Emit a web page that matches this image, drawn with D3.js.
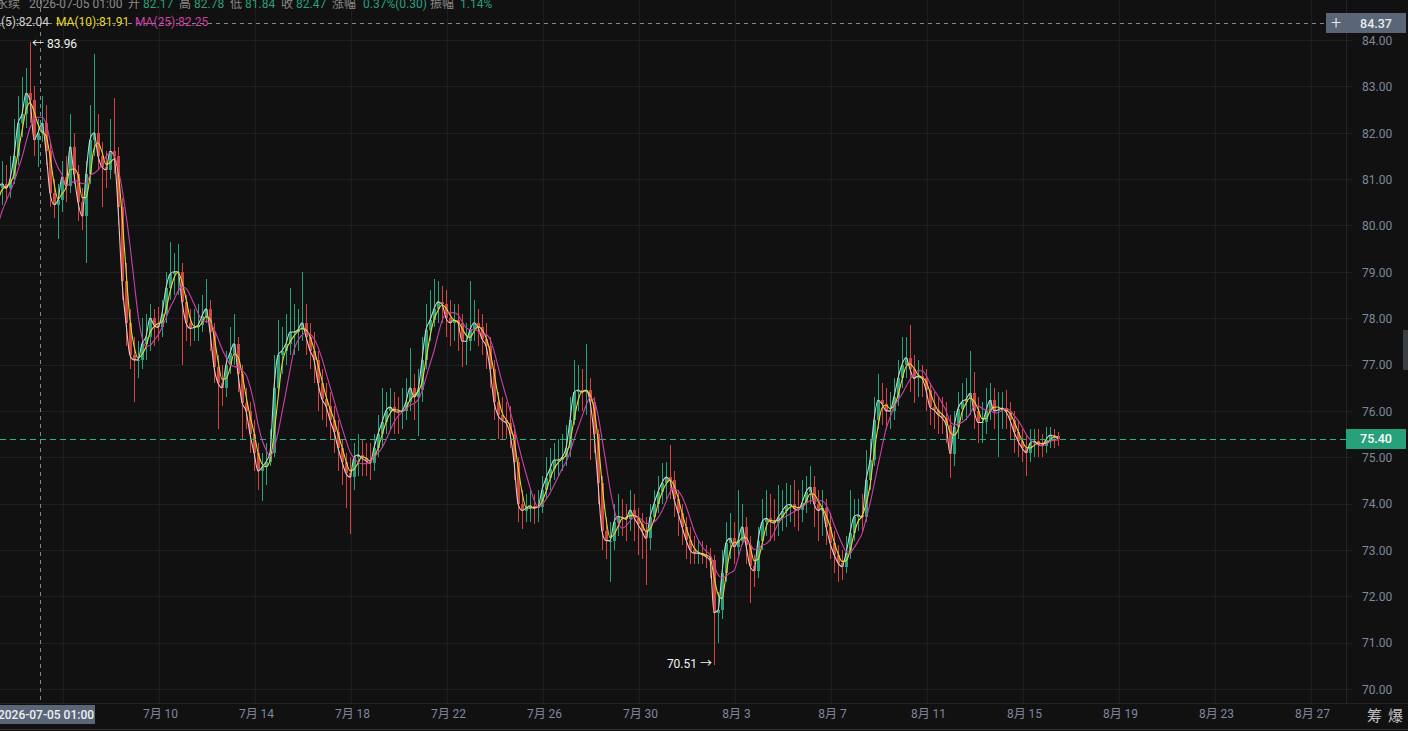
<!DOCTYPE html>
<html>
<head>
<meta charset="utf-8">
<script src="https://cdn.jsdelivr.net/npm/d3@7"></script>
<style>
  html, body { margin: 0; padding: 0; background: #111111; overflow: hidden; }
  svg { display: block; }
  text { font-family: Roboto, "Noto Sans CJK SC", "Noto Sans", sans-serif; }
</style>
</head>
<body>
<svg id="chart" width="1408" height="731"></svg>
<script>
// ---------------- DATA (4-hour bars) ----------------
const firstBarTime = new Date(2026, 6, 2, 8);   // first bar (off-screen, left)
const hoursPerBar = 4;

const opens = [
79.3,79.2,79.5,79.8,80.2,80.6,
80.8,80.9,80.8,81.0,81.5,82.2,82.4,82.85,82.7,81.85,
82.0,82.2,81.6,80.7,80.45,80.55,81.05,80.85,81.7,81.1,
80.5,80.2,81.1,81.85,82.0,81.5,81.26,81.2,81.6,81.5,
80.4,78.8,77.9,77.2,77.1,77.1,77.45,77.6,78.0,77.85,
77.8,78.1,78.65,78.95,79.0,79.0,78.35,77.9,77.78,77.8,
77.85,78.05,78.2,77.7,76.95,76.6,76.5,77.0,77.25,77.45,
76.8,76.18,76.0,75.5,75.1,74.7,74.78,74.9,75.1,76.5,
77.2,77.3,77.45,77.7,77.7,77.75,77.9,77.6,77.3,77.1,
76.6,76.25,76.1,75.8,75.55,75.2,74.9,74.65,74.57,75.0,
75.05,74.98,74.92,74.87,75.2,75.5,75.75,76.0,76.08,76.0,
75.97,76.0,76.2,76.5,76.3,76.45,77.1,77.75,77.95,78.2,
78.35,78.3,78.0,77.9,77.96,77.9,77.5,77.5,77.75,77.9,
77.8,77.55,77.4,76.9,76.2,75.9,75.8,75.74,75.5,74.9,
74.0,73.85,73.9,73.95,73.9,73.93,74.3,74.55,74.75,74.94,
74.94,75.0,75.2,75.8,76.4,76.45,76.4,76.45,76.2,75.5,
74.45,73.4,73.2,73.2,73.6,73.72,73.7,73.66,73.86,73.7,
73.55,73.4,73.25,73.7,74.0,74.25,74.45,74.57,74.5,74.1,
73.8,73.5,73.22,73.0,72.93,72.93,72.9,72.85,72.78,71.65,
71.7,72.5,73.15,73.25,73.07,73.2,73.5,73.1,72.65,72.55,
73.2,73.6,73.68,73.62,73.58,73.7,73.83,73.95,73.98,73.9,
73.86,74.02,74.25,74.35,74.0,73.85,73.9,73.5,73.15,72.9,
72.72,72.64,72.93,73.36,73.72,73.76,73.7,74.5,74.94,75.8,
76.23,76.15,76.0,76.0,76.3,76.7,77.0,77.15,76.9,76.7,
76.75,76.7,76.45,76.08,76.02,75.92,75.85,75.7,75.08,75.65,
76.05,76.2,76.25,76.38,76.0,75.75,75.75,76.0,76.23,76.0,
76.02,76.06,75.98,75.8,75.55,75.35,75.2,75.1,75.3,75.35,
75.28,75.25,75.38,75.48,75.45
];

const closes = [
79.2,79.5,79.8,80.2,80.6,80.8,
80.9,80.8,81.0,81.5,82.2,82.4,82.85,82.7,81.85,82.0,
82.2,81.6,80.7,80.45,80.55,81.05,80.85,81.7,81.1,80.5,
80.2,81.1,81.85,82.0,81.5,81.26,81.2,81.6,81.5,80.4,
78.8,77.9,77.2,77.1,77.1,77.45,77.6,78.0,77.85,77.8,
78.1,78.65,78.95,79.0,79.0,78.35,77.9,77.78,77.8,77.85,
78.05,78.2,77.7,76.95,76.6,76.5,77.0,77.25,77.45,76.8,
76.18,76.0,75.5,75.1,74.7,74.78,74.9,75.1,76.5,77.2,
77.3,77.45,77.7,77.7,77.75,77.9,77.6,77.3,77.1,76.6,
76.25,76.1,75.8,75.55,75.2,74.9,74.65,74.57,75.0,75.05,
74.98,74.92,74.87,75.2,75.5,75.75,76.0,76.08,76.0,75.97,
76.0,76.2,76.5,76.3,76.45,77.1,77.75,77.95,78.2,78.35,
78.3,78.0,77.9,77.96,77.9,77.5,77.5,77.75,77.9,77.8,
77.55,77.4,76.9,76.2,75.9,75.8,75.74,75.5,74.9,74.0,
73.85,73.9,73.95,73.9,73.93,74.3,74.55,74.75,74.94,74.94,
75.0,75.2,75.8,76.4,76.45,76.4,76.45,76.2,75.5,74.45,
73.4,73.2,73.2,73.6,73.72,73.7,73.66,73.86,73.7,73.55,
73.4,73.25,73.7,74.0,74.25,74.45,74.57,74.5,74.1,73.8,
73.5,73.22,73.0,72.93,72.93,72.9,72.85,72.78,71.65,71.7,
72.5,73.15,73.25,73.07,73.2,73.5,73.1,72.65,72.55,73.2,
73.6,73.68,73.62,73.58,73.7,73.83,73.95,73.98,73.9,73.86,
74.02,74.25,74.35,74.0,73.85,73.9,73.5,73.15,72.9,72.72,
72.64,72.93,73.36,73.72,73.76,73.7,74.5,74.94,75.8,76.23,
76.15,76.0,76.0,76.3,76.7,77.0,77.15,76.9,76.7,76.75,
76.7,76.45,76.08,76.02,75.92,75.85,75.7,75.08,75.65,76.05,
76.2,76.25,76.38,76.0,75.75,75.75,76.0,76.23,76.0,76.02,
76.06,75.98,75.8,75.55,75.35,75.2,75.1,75.3,75.35,75.28,
75.25,75.38,75.48,75.45,75.40
];

const highs = [
79.6,79.8,80.1,80.5,80.9,81.1,
81.4,81.3,81.5,82.3,82.8,83.2,83.4,83.96,83.0,82.3,
82.8,82.6,81.8,81.0,80.9,81.4,81.5,82.4,82.0,81.3,
80.8,81.4,82.6,83.7,82.4,81.8,81.6,82.3,82.75,81.7,
80.6,79.2,78.2,77.6,77.5,78.0,78.1,78.3,78.2,78.25,
78.4,79.0,79.65,79.4,79.6,79.2,78.5,78.2,78.2,78.3,
78.5,78.85,78.4,77.9,77.2,77.0,77.3,77.8,78.1,77.6,
77.0,76.5,76.2,75.8,75.3,75.1,75.3,75.6,77.2,77.96,
77.8,78.1,78.65,78.3,78.2,79.0,78.3,77.9,77.7,77.3,
76.9,76.6,76.4,76.1,75.8,75.4,75.1,75.0,75.3,75.5,
75.4,75.3,75.3,75.5,75.9,76.5,76.4,76.5,76.4,76.3,
76.5,76.7,77.35,76.8,76.9,77.6,78.3,78.6,78.85,78.8,
78.7,78.6,78.4,78.3,78.3,78.1,77.9,78.8,78.4,78.2,
78.1,77.9,77.6,77.1,76.4,76.3,76.2,76.1,75.7,75.0,
74.3,74.2,74.3,74.2,74.3,74.6,75.0,75.2,75.3,75.4,
75.5,75.7,76.3,77.1,77.0,76.9,77.45,76.7,76.3,75.6,
74.6,73.7,73.6,74.0,74.2,74.1,74.0,74.3,74.2,73.9,
73.8,73.7,74.0,74.3,74.6,74.87,74.9,75.26,74.7,74.3,
74.0,73.7,73.5,73.3,73.2,73.2,73.1,73.05,72.9,72.1,
73.0,73.6,73.8,73.6,74.3,74.0,73.7,73.3,72.9,73.5,
74.1,74.3,74.2,74.1,74.4,74.3,74.45,74.4,74.5,74.3,
74.5,74.6,74.8,74.6,74.3,74.3,74.1,73.8,73.4,73.1,
73.0,73.3,74.3,74.1,74.1,74.2,75.15,75.4,76.3,76.8,
76.6,76.5,76.4,76.7,77.1,77.6,77.6,77.85,77.2,77.1,
77.0,76.9,76.6,76.4,76.3,76.3,76.2,75.9,76.0,76.4,
76.6,76.7,77.3,76.84,76.3,76.2,76.5,76.6,76.5,76.4,
76.4,76.45,76.2,76.0,75.8,75.6,75.5,75.6,75.6,75.6,
75.5,75.65,75.65,75.6,75.55
];

const lows = [
78.9,79.0,79.3,79.6,80.0,80.4,
80.45,80.5,80.6,80.9,81.3,81.9,82.1,82.2,81.5,81.25,
81.8,81.3,80.4,80.15,79.7,80.3,80.5,80.7,80.9,80.1,
79.9,79.2,80.9,81.5,81.2,80.4,80.8,81.0,81.1,80.0,
78.4,77.4,76.9,76.2,76.7,76.9,77.1,77.3,77.4,77.5,
77.6,77.9,78.4,78.5,78.5,77.0,77.5,77.4,77.5,77.5,
77.7,77.9,77.3,76.6,75.6,76.1,76.3,76.8,77.0,76.4,
75.37,75.6,75.1,74.7,74.3,74.05,74.4,74.8,75.0,76.4,
76.8,77.0,77.2,77.2,77.3,77.5,77.2,76.9,76.6,76.0,
75.8,75.65,75.4,75.1,74.7,74.4,73.9,73.35,74.3,74.6,
74.6,74.6,74.5,74.7,75.0,75.2,75.5,75.6,75.5,75.5,
75.6,75.8,76.0,75.8,75.45,76.2,76.9,77.5,77.8,77.9,
77.9,77.6,77.4,77.5,77.3,76.95,77.0,77.3,77.5,77.4,
77.2,76.9,76.5,75.8,75.4,75.4,75.4,75.2,74.5,73.6,
73.45,73.6,73.6,73.55,73.6,73.8,74.1,74.3,74.5,74.6,
74.7,74.8,75.0,75.7,76.0,76.0,75.9,74.95,75.1,74.0,
73.0,72.8,72.3,73.0,73.3,73.3,73.2,73.4,73.2,72.9,
72.8,72.24,73.0,73.6,73.8,74.0,74.1,74.1,73.7,73.3,
73.1,72.8,72.7,72.7,72.7,72.7,72.6,72.4,70.51,71.0,
71.5,72.3,72.8,72.7,72.9,73.1,72.7,71.85,72.2,72.4,
73.0,73.3,73.2,73.2,73.3,73.4,73.5,73.6,73.5,73.4,
73.6,73.8,74.0,73.5,73.2,73.3,73.1,72.8,72.5,72.3,
72.35,72.5,72.8,73.2,73.4,73.4,73.6,74.3,74.8,75.6,
75.7,75.6,75.6,75.8,76.1,76.5,76.7,76.4,76.17,76.3,
76.3,76.0,75.7,75.6,75.5,75.5,75.3,74.55,74.8,75.4,
75.8,75.8,75.9,75.6,75.3,75.3,75.5,75.8,75.6,75.0,
75.6,75.6,75.4,75.1,75.0,74.9,74.6,74.9,75.0,75.0,
75.0,75.1,75.2,75.2,75.25
];

const maPeriods = [5, 10, 25];                 // hours
const maColors = ["#cfcfcf", "#e9d927", "#cf3fa8"];
const maLegendValues = ["82.04", "81.91", "82.25"];

const priceTicks = [70, 71, 72, 73, 74, 75, 76, 77, 78, 79, 80, 81, 82, 83, 84];
const dateTicks = [
  new Date(2026, 6, 6), new Date(2026, 6, 10), new Date(2026, 6, 14), new Date(2026, 6, 18),
  new Date(2026, 6, 22), new Date(2026, 6, 26), new Date(2026, 6, 30), new Date(2026, 7, 3),
  new Date(2026, 7, 7), new Date(2026, 7, 11), new Date(2026, 7, 15), new Date(2026, 7, 19),
  new Date(2026, 7, 23), new Date(2026, 7, 27)
];
const crosshairTime = new Date(2026, 6, 5, 1);
const crosshairPrice = 84.37;
const lastPrice = 75.40;
const maxMark = { time: new Date(2026, 6, 4, 13), price: 83.96 };
const minMark = { time: new Date(2026, 7, 2, 2), price: 70.51 };

const header = [
  { t: "永续", c: "gray" }, { t: "2026-07-05 01:00", c: "gray" },
  { t: "开", c: "gray" }, { t: "82.17", c: "val" },
  { t: "高", c: "gray" }, { t: "82.78", c: "val" },
  { t: "低", c: "gray" }, { t: "81.84", c: "val" },
  { t: "收", c: "gray" }, { t: "82.47", c: "val" },
  { t: "涨幅", c: "gray" }, { t: "0.37%(0.30)", c: "val" },
  { t: "振幅", c: "gray" }, { t: "1.14%", c: "val" }
];
const headerX = [-4, 29, 128, 143, 179, 194, 230, 245, 281, 296, 332, 363, 430, 460];

// ---------------- LAYOUT ----------------
const W = 1408, H = 731;
const plotRight = 1346, axisBottom = 703;
const colUp = "#22a57c", colDown = "#d4433e";
const gridCol = "#1e1e1e", axisTextCol = "#7f889b";

const svg = d3.select("#chart");
svg.append("rect").attr("width", W).attr("height", H).attr("fill", "#111111");

const t0 = new Date(2026, 6, 3, 8);
const x = d3.scaleTime()
  .domain([t0, new Date(t0.getTime() + plotRight * 3600e3)])
  .range([0, plotRight]);
const y = d3.scaleLinear().domain([70, 84]).range([689, 40]);

const bars = closes.map((c, i) => ({
  t: new Date(firstBarTime.getTime() + i * hoursPerBar * 3600e3),
  o: opens[i], h: highs[i], l: lows[i], c: c
}));

// grid
const grid = svg.append("g");
grid.selectAll(".hg").data(priceTicks).join("line")
  .attr("x1", 0).attr("x2", plotRight + 6)
  .attr("y1", d => Math.round(y(d)) + 0.5).attr("y2", d => Math.round(y(d)) + 0.5)
  .attr("stroke", gridCol);
grid.selectAll(".vg").data(dateTicks).join("line")
  .attr("x1", d => Math.round(x(d)) - 0.5).attr("x2", d => Math.round(x(d)) - 0.5)
  .attr("y1", 0).attr("y2", axisBottom)
  .attr("stroke", gridCol);

// axes frame
svg.append("line").attr("x1", plotRight + 0.5).attr("x2", plotRight + 0.5)
  .attr("y1", 0).attr("y2", axisBottom).attr("stroke", "#242424");
svg.append("line").attr("x1", 0).attr("x2", W).attr("y1", axisBottom + 0.5).attr("y2", axisBottom + 0.5)
  .attr("stroke", "#242424");
svg.append("line").attr("x1", 0).attr("x2", W).attr("y1", 729.5).attr("y2", 729.5)
  .attr("stroke", "#2e2e2e");

// right axis
const yAxis = d3.axisRight(y).tickValues(priceTicks).tickFormat(d3.format(".2f")).tickSize(0).tickPadding(16);
const ya = svg.append("g").attr("transform", `translate(${plotRight},0)`).call(yAxis);
ya.select(".domain").remove();
ya.selectAll("text").attr("fill", axisTextCol).attr("font-size", 12).attr("dy", "0.36em");

// bottom axis (first label sits under the crosshair time box)
const monthDay = d => `${d.getMonth() + 1}月 ${d.getDate()}`;
const xAxis = d3.axisBottom(x).tickValues(dateTicks.slice(1)).tickFormat(monthDay).tickSize(0).tickPadding(6);
const xa = svg.append("g").attr("transform", `translate(0,${axisBottom})`).call(xAxis);
xa.select(".domain").remove();
xa.selectAll("text").attr("fill", axisTextCol).attr("font-size", 12);

// plot
const clip = svg.append("clipPath").attr("id", "plotclip");
clip.append("rect").attr("x", 0).attr("y", 0).attr("width", plotRight).attr("height", axisBottom);
const plot = svg.append("g").attr("clip-path", "url(#plotclip)");

const barW = x(new Date(t0.getTime() + hoursPerBar * 3600e3)) - x(t0);
const cg = plot.append("g").attr("shape-rendering", "crispEdges");
const candle = cg.selectAll("g").data(bars).join("g");
candle.append("rect")
  .attr("x", d => x(d.t) + barW / 2 - 0.5).attr("width", 1)
  .attr("y", d => y(d.h)).attr("height", d => Math.max(1, y(d.l) - y(d.h)))
  .attr("fill", d => d.c >= d.o ? colUp : colDown);
candle.append("rect")
  .attr("x", d => x(d.t) + 0.5).attr("width", barW - 1)
  .attr("y", d => y(Math.max(d.o, d.c))).attr("height", d => Math.max(1, Math.abs(y(d.o) - y(d.c))))
  .attr("fill", d => d.c >= d.o ? colUp : colDown);

// moving averages (period in hours -> nearest whole number of bars)
maPeriods.forEach((p, k) => {
  const n = Math.max(1, Math.round(p / hoursPerBar));
  const pts = [];
  for (let i = n - 1; i < closes.length; i++) {
    pts.push({ t: bars[i].t, v: d3.mean(closes.slice(i - n + 1, i + 1)) });
  }
  plot.append("path").datum(pts)
    .attr("fill", "none").attr("stroke", maColors[k]).attr("stroke-width", 1.1)
    .attr("d", d3.line().x(d => x(d.t) + barW / 2).y(d => y(d.v)).curve(d3.curveMonotoneX));
});

// last price line
svg.append("line").attr("x1", 0).attr("x2", plotRight)
  .attr("y1", Math.round(y(lastPrice)) + 0.5).attr("y2", Math.round(y(lastPrice)) + 0.5)
  .attr("stroke", "#22b887").attr("stroke-width", 1).attr("shape-rendering", "crispEdges")
  .attr("stroke-dasharray", "6,4");
svg.append("rect").attr("x", plotRight).attr("y", Math.round(y(lastPrice)) - 10)
  .attr("width", 60).attr("height", 20).attr("fill", "#26a17b");
svg.append("text").attr("x", plotRight + 30).attr("y", y(lastPrice))
  .attr("dy", "0.36em").attr("text-anchor", "middle").attr("font-size", 12.5).attr("font-weight", 500)
  .attr("fill", "#ffffff").text(lastPrice.toFixed(2));

// crosshair
const cx = Math.round(x(crosshairTime)) - 0.5;
const cy = Math.round(y(crosshairPrice)) + 0.5;
svg.append("line").attr("x1", cx).attr("x2", cx).attr("y1", 0).attr("y2", axisBottom)
  .attr("stroke", "#7e8594").attr("stroke-dasharray", "4,4");
svg.append("line").attr("x1", 0).attr("x2", plotRight).attr("y1", cy).attr("y2", cy)
  .attr("stroke", "#7e8594").attr("stroke-dasharray", "4,4");

// max / min marks
svg.append("text").attr("x", x(maxMark.time) + 3).attr("y", y(maxMark.price) + 6)
  .attr("font-size", 12).attr("fill", "#f2f2f2").text("← " + maxMark.price.toFixed(2));
svg.append("text").attr("x", x(minMark.time) - 2).attr("y", y(minMark.price) + 3)
  .attr("text-anchor", "end").attr("font-size", 12).attr("fill", "#f2f2f2").text(minMark.price.toFixed(2) + " →");

// header row 1
const hdr = svg.append("g");
hdr.selectAll("text").data(header).join("text")
  .attr("x", (d, i) => headerX[i]).attr("y", 8)
  .attr("font-size", 12)
  .attr("fill", d => d.c === "gray" ? "#8a8a8a" : "#26a17b")
  .text(d => d.t);

// MA legend row
const legX = [49, 56, 135];
maPeriods.forEach((p, k) => {
  svg.append("text").attr("x", legX[k]).attr("y", 26)
    .attr("text-anchor", k === 0 ? "end" : "start")
    .attr("font-size", 12).attr("fill", maColors[k])
    .text(`MA(${p}):${maLegendValues[k]}`);
});

// crosshair labels
svg.append("rect").attr("x", plotRight - 20).attr("y", cy - 10.5).attr("width", 20).attr("height", 20).attr("fill", "#5b6578");
svg.append("text").attr("x", plotRight - 10).attr("y", cy - 0.5).attr("dy", "0.36em")
  .attr("text-anchor", "middle").attr("font-size", 18).attr("font-weight", 300).attr("fill", "#e5e8ee").text("+");
svg.append("rect").attr("x", plotRight).attr("y", cy - 10.5).attr("width", 60).attr("height", 20).attr("fill", "#5b6578");
svg.append("text").attr("x", plotRight + 30).attr("y", cy - 0.5).attr("dy", "0.36em")
  .attr("text-anchor", "middle").attr("font-size", 12.5).attr("font-weight", 500).attr("fill", "#e8ebf0")
  .text(crosshairPrice.toFixed(2));
svg.append("rect").attr("x", 0).attr("y", 705).attr("width", 95).attr("height", 19).attr("fill", "#5b6578");
const fmt = d3.timeFormat("%Y-%m-%d %H:%M");
svg.append("text").attr("x", 46).attr("y", 714.5).attr("dy", "0.36em")
  .attr("text-anchor", "middle").attr("font-size", 12).attr("font-weight", 500).attr("fill", "#eef0f4")
  .text(fmt(crosshairTime));

// bottom right corner
svg.append("text").attr("x", 1367).attr("y", 721).attr("font-size", 15).attr("fill", "#c2c5cb").text("筹");
svg.append("text").attr("x", 1388).attr("y", 721).attr("font-size", 15).attr("fill", "#c2c5cb").text("爆");

// right edge handle
svg.append("rect").attr("x", 1403).attr("y", 330).attr("width", 5).attr("height", 40).attr("fill", "#3a3d44");
</script>
</body>
</html>
